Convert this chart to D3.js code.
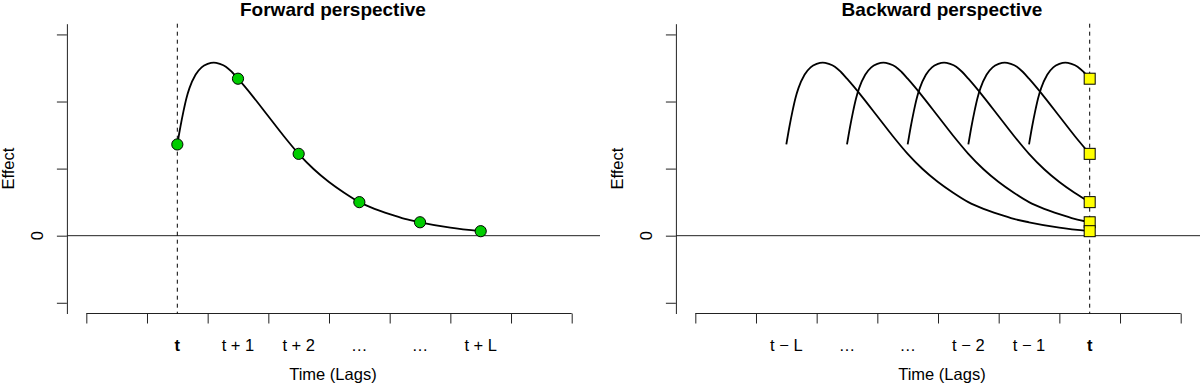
<!DOCTYPE html>
<html>
<head>
<meta charset="utf-8">
<script src="https://cdn.jsdelivr.net/npm/d3@7"></script>
<style>
  body { margin: 0; background: #fff; }
  svg { display: block; font-family: "Liberation Sans", Arial, sans-serif; }
</style>
</head>
<body>
<div id="chart"></div>
<script>
//Lag-response curve (lag in units of t, effect on y)
var curveLag = [0, 0.05, 0.1, 0.15, 0.2, 0.3, 0.4, 0.5, 0.6, 0.7, 0.8, 0.9, 1,
                1.25, 1.5, 1.75, 2, 2.25, 2.5, 2.75, 3, 3.25, 3.5, 3.75, 4, 4.5, 5];
var curveEffect = [1.36, 1.62, 1.85, 2.05, 2.20, 2.40, 2.51, 2.56, 2.58, 2.56, 2.52, 2.44, 2.34,
                   2.07, 1.78, 1.49, 1.22, 0.99, 0.80, 0.64, 0.50, 0.40, 0.32, 0.25, 0.20, 0.12, 0.067];
//Points at whole lags
var pointLag = [0, 1, 2, 3, 4, 5];
var pointEffect = [1.36, 2.34, 1.22, 0.50, 0.20, 0.067];
//Tick labels
var forwardLabels = ["t", "t + 1", "t + 2", "\u2026", "\u2026", "t + L"];
var backwardLabels = ["t \u2212 L", "\u2026", "\u2026", "t \u2212 2", "t \u2212 1", "t"];
var backwardLag = [-5, -4, -3, -2, -1, 0];
var xTicksForward = [-1.5, -0.5, 0.5, 1.5, 2.5, 3.5, 4.5, 5.5, 6.5];
var xTicksBackward = [-6.5, -5.5, -4.5, -3.5, -2.5, -1.5, -0.5, 0.5, 1.5];
var yTicks = [-1, 0, 1, 2, 3];

var width = 1200, height = 385;
var panelShift = 609;

var svg = d3.select("#chart").append("svg")
            .attr("width", width)
            .attr("height", height);

var y = d3.scaleLinear().domain([-1.16, 3.16]).range([313.5, 23.7]);

var curveData = curveLag.map(function(d, i) { return { lag: d, effect: curveEffect[i] }; });
var pointData = pointLag.map(function(d, i) { return { lag: d, effect: pointEffect[i] }; });

function drawPanel(offset, xDomain, xTicks, title, labels, labelLags) {
  var left = 66.9 + offset, right = 599 + offset;
  var x = d3.scaleLinear().domain(xDomain).range([left, right]);
  var g = svg.append("g");

  //Title
  g.append("text")
    .attr("x", (left + right) / 2)
    .attr("y", 15.5)
    .attr("text-anchor", "middle")
    .attr("font-size", 19)
    .attr("font-weight", "bold")
    .text(title);

  //Y axis, only zero labelled
  g.append("g")
    .attr("transform", "translate(" + left + ",0)")
    .call(d3.axisLeft(y).tickValues(yTicks).tickSize(10).tickSizeOuter(0).tickFormat(""))
    .call(function(a) { a.selectAll("path, line").attr("stroke", "#222"); });

  g.append("text")
    .attr("transform", "translate(" + (offset + 42.5) + "," + y(0) + ") rotate(-90)")
    .attr("text-anchor", "middle")
    .attr("font-size", 16.5)
    .text("0");

  g.append("text")
    .attr("transform", "translate(" + (offset + 13.5) + "," + ((y.range()[0] + y.range()[1]) / 2) + ") rotate(-90)")
    .attr("text-anchor", "middle")
    .attr("font-size", 16.5)
    .text("Effect");

  //X axis below the plot region
  g.append("g")
    .attr("transform", "translate(0," + y.range()[0] + ")")
    .call(d3.axisBottom(x).tickValues(xTicks).tickSize(10).tickSizeOuter(0).tickFormat(""))
    .call(function(a) {
      a.select(".domain").attr("d", "M" + x(xTicks[0]) + ",0H" + x(xTicks[xTicks.length - 1]));
      a.selectAll("path, line").attr("stroke", "#222");
    });

  g.selectAll(null)
    .data(labels)
    .enter()
    .append("text")
    .attr("x", function(d, i) { return x(labelLags[i]); })
    .attr("y", 351)
    .attr("text-anchor", "middle")
    .attr("font-size", 16.5)
    .attr("font-weight", function(d) { return d == "t" ? "bold" : "normal"; })
    .text(function(d) { return d; });

  g.append("text")
    .attr("x", (left + right) / 2)
    .attr("y", 380)
    .attr("text-anchor", "middle")
    .attr("font-size", 16.5)
    .text("Time (Lags)");

  //Zero line
  g.append("line")
    .attr("x1", left).attr("x2", Math.min(offset + 600, width))
    .attr("y1", y(0)).attr("y2", y(0))
    .attr("stroke", "#222");

  //Dashed line at t
  g.append("line")
    .attr("x1", x(0)).attr("x2", x(0))
    .attr("y1", y.range()[1]).attr("y2", y.range()[0])
    .attr("stroke", "#000")
    .attr("stroke-dasharray", "4,4");

  return { g: g, x: x };
}

//Forward perspective
var fwd = drawPanel(0, [-1.82, 6.95], xTicksForward, "Forward perspective", forwardLabels, pointLag);
var lineF = d3.line()
              .x(function(d) { return fwd.x(d.lag); })
              .y(function(d) { return y(d.effect); })
              .curve(d3.curveMonotoneX);
fwd.g.append("path")
  .datum(curveData)
  .attr("d", lineF)
  .attr("fill", "none")
  .attr("stroke", "#000")
  .attr("stroke-width", 1.8);
fwd.g.selectAll("circle")
  .data(pointData)
  .enter()
  .append("circle")
  .attr("cx", function(d) { return fwd.x(d.lag); })
  .attr("cy", function(d) { return y(d.effect); })
  .attr("r", 5.6)
  .attr("fill", "#00cd00")
  .attr("stroke", "#000")
  .attr("stroke-width", 1);

//Backward perspective: one curve for each exposure from t-L to t-1
var bwd = drawPanel(panelShift, [-6.82, 1.95], xTicksBackward, "Backward perspective", backwardLabels, backwardLag);
var startLags = [-5, -4, -3, -2, -1];
startLags.forEach(function(s) {
  var part = curveData.filter(function(d) { return d.lag <= -s; });
  bwd.g.append("path")
    .datum(part)
    .attr("d", d3.line()
                 .x(function(d) { return bwd.x(s + d.lag); })
                 .y(function(d) { return y(d.effect); })
                 .curve(d3.curveMonotoneX))
    .attr("fill", "none")
    .attr("stroke", "#000")
    .attr("stroke-width", 1.8);
});
bwd.g.selectAll("rect")
  .data(pointData.filter(function(d) { return d.lag > 0; }))
  .enter()
  .append("rect")
  .attr("x", function(d) { return bwd.x(0) - 5.5; })
  .attr("y", function(d) { return y(d.effect) - 5.5; })
  .attr("width", 11)
  .attr("height", 11)
  .attr("fill", "#ffff00")
  .attr("stroke", "#000")
  .attr("stroke-width", 1);
</script>
</body>
</html>
